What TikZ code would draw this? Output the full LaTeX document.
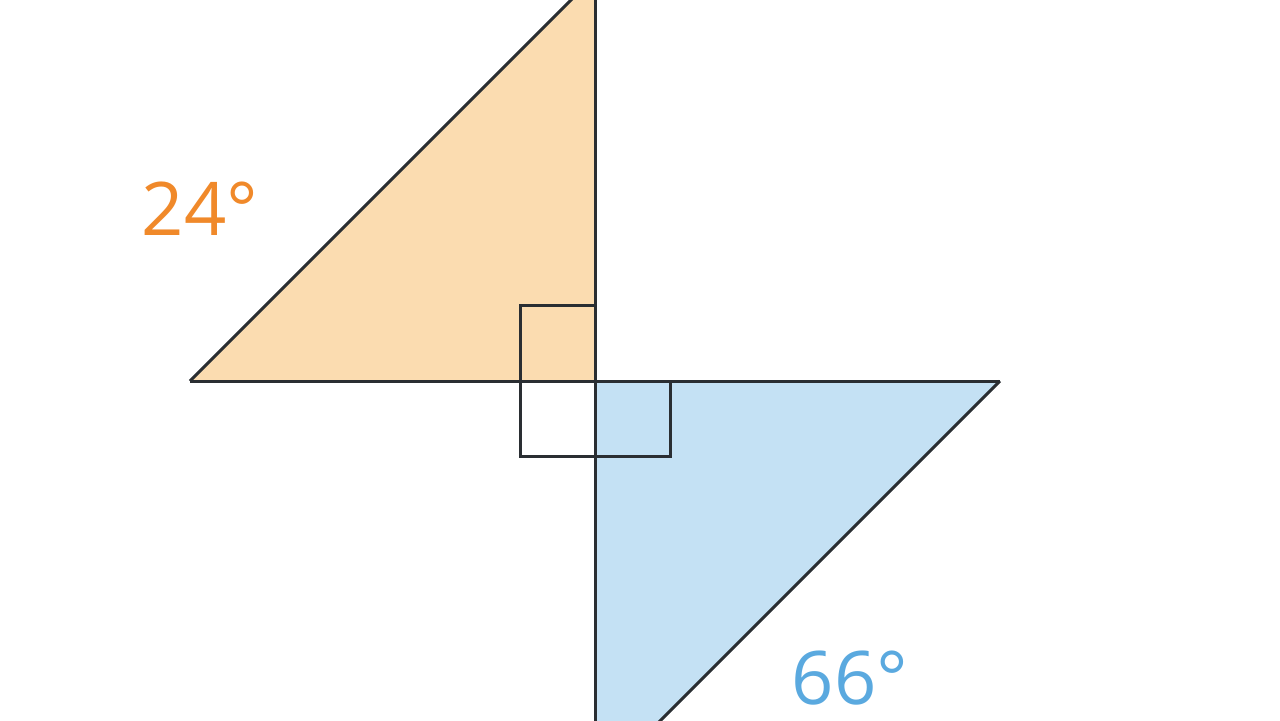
\documentclass[tikz,border=0pt]{standalone}
\usepackage{fontspec}
\setmainfont{Open Sans}
\usepackage{xcolor}
\usetikzlibrary{positioning}

\definecolor{orangefill}{HTML}{FBDCB0}
\definecolor{orangetext}{HTML}{F0892A}
\definecolor{bluefill}{HTML}{C4E1F4}
\definecolor{bluetext}{HTML}{5AA9DF}
\definecolor{edgegray}{HTML}{2A2E32}

\begin{document}
\begin{tikzpicture}[
  x=0.5pt, y=-0.5pt,
  edge/.style={draw=edgegray, line width=1.5pt, line join=miter},
  angle label/.style={font=\fontsize{37}{44}\selectfont, inner sep=0pt,
    text depth=0pt, anchor=base}
]
  \useasboundingbox (0,0) rectangle (1280,720);
  \clip (0,0) rectangle (1280,720);

  % corner points
  \coordinate (O) at (595,381);
  \coordinate (orange-left) at (190,381);
  \coordinate (orange-top) at (595,-24);
  \coordinate (blue-right) at (1000,381);
  \coordinate (blue-bottom) at (595,786);

  % triangles
  \fill[orangefill] (orange-left) -- (O) -- (orange-top) -- cycle;
  \fill[bluefill] (blue-right) -- (O) -- (blue-bottom) -- cycle;

  % right angle marks
  \coordinate (mark-top) at (595,305);
  \coordinate (mark-nw) at (520,305);
  \coordinate (mark-sw) at (520,456);
  \coordinate (mark-se) at (670,456);
  \coordinate (mark-right) at (670,381);
  \draw[edge] (mark-top) -- (mark-nw) -- (mark-sw) -- (mark-se) -- (mark-right);

  % sides
  \draw[edge] (orange-left) -- (blue-right);
  \draw[edge] (orange-top) -- (blue-bottom);
  \draw[edge] (orange-left) -- (orange-top);
  \draw[edge] (blue-right) -- (blue-bottom);

  % angles
  \node[angle label, text=orangetext] (angle-24) at (200,235) {24°};
  \node[angle label, text=bluetext] (angle-66) at (850,704) {66°};
\end{tikzpicture}
\end{document}
